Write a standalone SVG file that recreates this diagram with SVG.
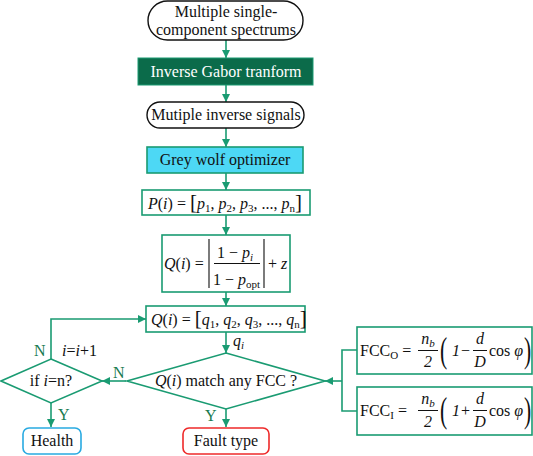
<svg xmlns="http://www.w3.org/2000/svg" width="533" height="456" viewBox="0 0 533 456">
<defs>
<marker id="ah" viewBox="0 0 10 10" refX="10" refY="5" markerWidth="8" markerHeight="8" markerUnits="userSpaceOnUse" orient="auto">
<path d="M0,0 L10,5 L0,10 z" fill="#1a9b72"/>
</marker>
<style>
text{font-family:'Liberation Serif','Times New Roman','DejaVu Serif',serif;font-size:16px;fill:#111}
.c{text-anchor:middle}
.it{font-style:italic}
.box{fill:#fff;stroke:#1a9b72;stroke-width:1.6}
.pill{fill:#fff;stroke:#111;stroke-width:1.4}
.ln{fill:none;stroke:#1a9b72;stroke-width:1.6}
.arr{fill:none;stroke:#1a9b72;stroke-width:1.6;marker-end:url(#ah)}
.lab{fill:#1a7a50}
.sub{font-size:11px}
.brk{font-size:21px}
.par{font-size:36px}
</style>
</defs>
<g id="connectors">
<path class="arr" d="M226,40 V58"/>
<path class="arr" d="M226,85 V102"/>
<path class="arr" d="M226,128 V147"/>
<path class="arr" d="M226,173 V190"/>
<path class="arr" d="M226,215 V235"/>
<path class="arr" d="M226,292 V306"/>
<path class="arr" d="M226,332 V353"/>
<path class="arr" d="M226,409 V427"/>
<path class="arr" d="M126,381 H102"/>
<path class="arr" d="M51,359 V319 H146"/>
<path class="arr" d="M51,403 V427"/>
<path class="ln" d="M357,350 H342 V411 H357"/>
<path class="arr" d="M342,381 H325"/>
<text class="lab" x="34" y="356">N</text>
<text x="62" y="356"><tspan class="it">i</tspan>=<tspan class="it">i</tspan>+1</text>
<text class="lab" x="113" y="378">N</text>
<text class="lab" x="58" y="420">Y</text>
<text class="lab" x="205" y="421">Y</text>
<text class="it" x="233" y="346">q<tspan class="sub" dy="3">i</tspan></text>
</g>
<g id="spectrums">
<rect class="pill" x="148" y="1" width="155" height="39" rx="19.5"/>
<text class="c" x="226" y="17">Multiple single-</text>
<text class="c" x="226" y="35">component spectrums</text>
</g>
<g id="gabor">
<rect x="138" y="58" width="175" height="27" fill="#0b6b4a" stroke="#1a9b72" stroke-width="1"/>
<text class="c" x="226" y="77" style="fill:#fff">Inverse Gabor tranform</text>
</g>
<g id="inverse">
<rect class="pill" x="147" y="102" width="157" height="26" rx="13"/>
<text class="c" x="226" y="120">Mutiple inverse signals</text>
</g>
<g id="gwo">
<rect x="147" y="147" width="156" height="26" fill="#4dd8f5" stroke="#1a9b72" stroke-width="1.6"/>
<text class="c" x="225" y="165">Grey wolf optimizer</text>
</g>
<g id="p">
<rect class="box" x="142" y="190" width="168" height="25"/>
<text x="148" y="209"><tspan class="it">P</tspan>(<tspan class="it">i</tspan>) = <tspan class="brk">[</tspan><tspan class="it">p</tspan><tspan class="sub" dy="3">1</tspan><tspan dy="-3">, </tspan><tspan class="it">p</tspan><tspan class="sub" dy="3">2</tspan><tspan dy="-3">, </tspan><tspan class="it">p</tspan><tspan class="sub" dy="3">3</tspan><tspan dy="-3">, ..., </tspan><tspan class="it">p</tspan><tspan class="sub" dy="3">n</tspan><tspan dy="-3" class="brk">]</tspan></text>
</g>
<g id="q">
<rect class="box" x="162" y="235" width="128" height="57"/>
<text x="164" y="269"><tspan class="it">Q</tspan>(<tspan class="it">i</tspan>) =</text>
<path d="M209,239 V288 M264,239 V288" stroke="#111" stroke-width="1.1" fill="none"/>
<path d="M214,263.5 H260" stroke="#111" stroke-width="1"/>
<text x="217" y="258">1 − <tspan class="it">p</tspan><tspan class="sub it" dy="3">i</tspan></text>
<text x="213" y="285">1 − <tspan class="it">p</tspan><tspan class="sub" dy="3">opt</tspan></text>
<text x="268" y="269">+ <tspan class="it">z</tspan></text>
</g>
<g id="qvec">
<rect class="box" x="146" y="306" width="159" height="26"/>
<text x="151" y="325"><tspan class="it">Q</tspan>(<tspan class="it">i</tspan>) = <tspan class="brk">[</tspan><tspan class="it">q</tspan><tspan class="sub" dy="3">1</tspan><tspan dy="-3">, </tspan><tspan class="it">q</tspan><tspan class="sub" dy="3">2</tspan><tspan dy="-3">, </tspan><tspan class="it">q</tspan><tspan class="sub" dy="3">3</tspan><tspan dy="-3">, ..., </tspan><tspan class="it">q</tspan><tspan class="sub" dy="3">n</tspan><tspan dy="-3" class="brk">]</tspan></text>
</g>
<g id="match">
<path class="box" d="M226,353 L325,381 L226,409 L127,381 z"/>
<text class="c" x="226" y="386"><tspan class="it">Q</tspan>(<tspan class="it">i</tspan>) match any FCC ?</text>
</g>
<g id="ifn">
<path class="box" d="M51,359 L102,381 L51,403 L1,381 z"/>
<text class="c" x="51" y="386">if <tspan class="it">i</tspan>=n?</text>
</g>
<g id="health">
<rect x="23" y="428" width="58" height="26" rx="6" fill="#fff" stroke="#29aae1" stroke-width="1.6"/>
<text class="c" x="52" y="446">Health</text>
</g>
<g id="fault">
<rect x="183" y="428" width="86" height="26" rx="6" fill="#fff" stroke="#ee2a2a" stroke-width="1.6"/>
<text class="c" x="226" y="446">Fault type</text>
</g>
<g id="fcco">
<rect class="box" x="357" y="327" width="175" height="47"/>
<text x="360" y="356">FCC<tspan class="sub" dy="3">O</tspan><tspan dy="-3"> =</tspan></text>
<text class="it c" x="428" y="344">n<tspan class="sub" dy="3">b</tspan></text>
<path d="M418,350.5 H438" stroke="#111" stroke-width="1"/>
<text class="it c" x="428" y="367">2</text>
<text class="par" x="440" y="362" transform="translate(440 0) scale(0.6 1) translate(-440 0)">(</text>
<text class="it" x="452" y="356">1</text>
<text x="461" y="356">−</text>
<text class="it c" x="480" y="344">d</text>
<path d="M473,350.5 H487" stroke="#111" stroke-width="1"/>
<text class="it c" x="480" y="367">D</text>
<text x="489" y="356">cos <tspan class="it">φ</tspan></text>
<text class="par" x="524" y="362" transform="translate(524 0) scale(0.6 1) translate(-524 0)">)</text>
</g>
<g id="fcci">
<rect class="box" x="357" y="387" width="175" height="48"/>
<text x="360" y="416">FCC<tspan class="sub" dy="3">I</tspan><tspan dy="-3"> =</tspan></text>
<text class="it c" x="428" y="404">n<tspan class="sub" dy="3">b</tspan></text>
<path d="M418,410.5 H438" stroke="#111" stroke-width="1"/>
<text class="it c" x="428" y="427">2</text>
<text class="par" x="440" y="422" transform="translate(440 0) scale(0.6 1) translate(-440 0)">(</text>
<text class="it" x="452" y="416">1</text>
<text x="461" y="416">+</text>
<text class="it c" x="480" y="404">d</text>
<path d="M473,410.5 H487" stroke="#111" stroke-width="1"/>
<text class="it c" x="480" y="427">D</text>
<text x="489" y="416">cos <tspan class="it">φ</tspan></text>
<text class="par" x="524" y="422" transform="translate(524 0) scale(0.6 1) translate(-524 0)">)</text>
</g>
</svg>
